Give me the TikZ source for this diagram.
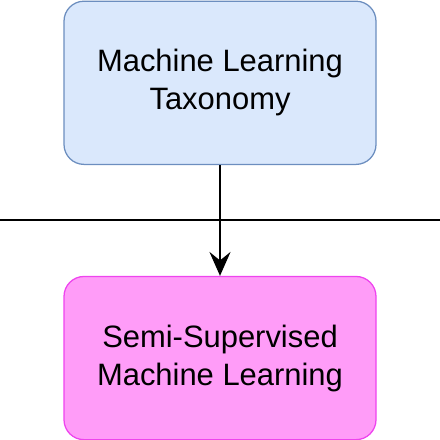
\documentclass[tikz,border=0pt]{standalone}
\usepackage{fontspec}
\setmainfont{Liberation Sans}
\usetikzlibrary{arrows.meta, positioning}
\definecolor{taxfill}{HTML}{DAE8FC}
\definecolor{taxdraw}{HTML}{6C8EBF}
\definecolor{semifill}{HTML}{FF9CF8}
\definecolor{semidraw}{HTML}{EE44EE}
\tikzset{%
	every box/.style={
		rectangle,
		rounded corners=0.5cm,
		line width=0.9pt,
		minimum width=7.8cm,
		minimum height=4.08cm,
		align=center,
		font=\fontsize{22}{27}\selectfont
	},
	tax box/.style={every box, draw=taxdraw, fill=taxfill},
	semi box/.style={every box, draw=semidraw, fill=semifill},
}
\begin{document}
\begin{tikzpicture}
			\useasboundingbox (0,0) rectangle (11,-11);
			% Draw the top box
			\node[tax box] (taxonomy) at (5.5,-2.07) {Machine Learning\\Taxonomy};
			
			% Draw the bottom box
			\node[semi box, below=2.77cm of taxonomy] (semi) {Semi-Supervised\\Machine Learning};
			
			% Draw the separating line
			\coordinate (lineleft) at (0,-5.5);
			\coordinate (lineright) at (11,-5.5);
			\draw[line width=1.2pt] (lineleft) -- (lineright);
			
			% Draw the arrow
			\draw[-{Stealth[length=17pt, width=15pt, inset=6pt]}, line width=1pt] (taxonomy) -- (semi);
		\end{tikzpicture}
\end{document}
